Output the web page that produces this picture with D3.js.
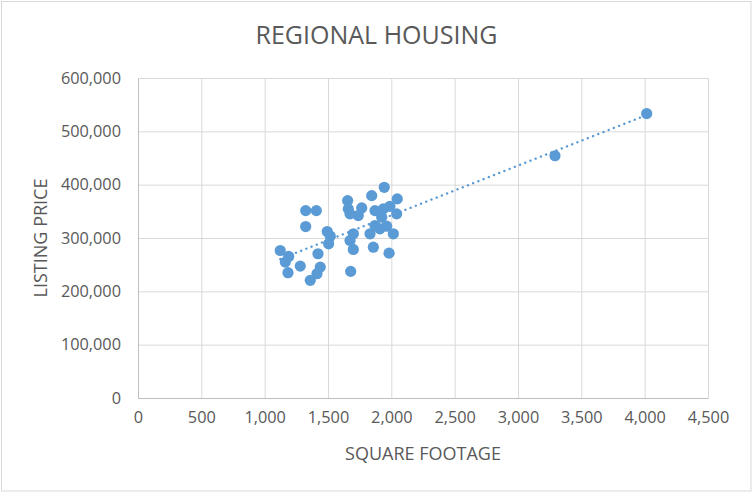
<!DOCTYPE html>
<html>
<head>
<meta charset="utf-8">
<script src="https://cdn.jsdelivr.net/npm/d3@7"></script>
<style>
  html, body { margin: 0; padding: 0; background: #fff; }
  svg { display: block; font-family: "Open Sans", "Liberation Sans", sans-serif; }
</style>
</head>
<body>
<svg id="chart" width="753" height="493"></svg>
<script>
// ---- data ----
const title = "REGIONAL HOUSING";
const xAxisTitle = "SQUARE FOOTAGE";
const yAxisTitle = "LISTING PRICE";
const squareFootage = [
  1123, 1190, 1163, 1184, 1281, 1421, 1439, 1413, 1360, 1324,
  1408, 1324, 1494, 1518, 1505, 1944, 1845, 1655, 1660, 1674,
  1766, 1739, 1871, 1937, 1989, 2047, 2042, 1924, 1871, 1910,
  1963, 2016, 1832, 1700, 1674, 1700, 1858, 1982, 1679, 3292,
  4016
];
const listingPrice = [
  276600, 265400, 254800, 235000, 247300, 270500, 245400, 233100, 220600, 351400,
  351400, 321500, 312100, 303400, 289100, 395000, 379400, 370100, 354600, 345200,
  356400, 342100, 351400, 354600, 359400, 373300, 345200, 338900, 323400, 317200,
  322100, 307900, 307900, 307900, 295300, 278500, 282800, 271600, 237400, 454200,
  533300
];
const xTicks = [0, 500, 1000, 1500, 2000, 2500, 3000, 3500, 4000, 4500];
const yTicks = [0, 100000, 200000, 300000, 400000, 500000, 600000];

// ---- layout ----
const svg = d3.select("#chart");
const W = 753, H = 493;
const plot = { left: 138, right: 708, top: 78, bottom: 398 };
const textColor = "#595959";
const gridColor = "#D9D9D9";
const axisColor = "#BFBFBF";
const markColor = "#5B9BD5";

svg.append("rect")
  .attr("x", 1.5).attr("y", 1.5)
  .attr("width", W - 3.5).attr("height", H - 3.5)
  .attr("fill", "#fff").attr("stroke", gridColor).attr("stroke-width", 1);

const x = d3.scaleLinear().domain([0, 4500]).range([plot.left, plot.right]);
const y = d3.scaleLinear().domain([0, 600000]).range([plot.bottom, plot.top]);
const fmt = d3.format(",");

// gridlines
const gy = svg.append("g")
  .attr("transform", `translate(${plot.left},0)`)
  .call(d3.axisLeft(y).tickValues(yTicks).tickSize(-(plot.right - plot.left)).tickFormat(""));
gy.select(".domain").remove();
gy.selectAll(".tick line").attr("stroke", gridColor).attr("stroke-width", 1);

const gx = svg.append("g")
  .attr("transform", `translate(0,${plot.bottom})`)
  .call(d3.axisBottom(x).tickValues(xTicks).tickSize(-(plot.bottom - plot.top)).tickFormat(""));
gx.select(".domain").remove();
gx.selectAll(".tick line").attr("stroke", gridColor).attr("stroke-width", 1);

// axis lines
const yAxis = svg.append("g")
  .attr("transform", `translate(${plot.left},0)`)
  .call(d3.axisLeft(y).tickValues(yTicks).tickSize(0).tickPadding(17).tickFormat(fmt));
yAxis.select(".domain").attr("stroke", axisColor);
yAxis.selectAll(".tick text").attr("fill", textColor).style("font-size", "16.3px")
  .style("font-family", "'Open Sans', sans-serif");

const xAxis = svg.append("g")
  .attr("transform", `translate(0,${plot.bottom})`)
  .call(d3.axisBottom(x).tickValues(xTicks).tickSize(0).tickPadding(13).tickFormat(fmt));
xAxis.select(".domain").attr("stroke", axisColor);
xAxis.selectAll(".tick text").attr("fill", textColor).style("font-size", "16.3px")
  .style("font-family", "'Open Sans', sans-serif");

// points
const pts = squareFootage.map((s, i) => ({ s, p: listingPrice[i] }));
svg.append("g").selectAll("circle").data(pts).join("circle")
  .attr("cx", d => x(d.s)).attr("cy", d => y(d.p)).attr("r", 5.6)
  .attr("fill", markColor);

// linear trendline (least squares)
const mx = d3.mean(pts, d => d.s), my = d3.mean(pts, d => d.p);
const slope = d3.sum(pts, d => (d.s - mx) * (d.p - my)) / d3.sum(pts, d => (d.s - mx) ** 2);
const intercept = my - slope * mx;
const [xmin, xmax] = d3.extent(squareFootage);
svg.append("line")
  .attr("x1", x(xmin)).attr("y1", y(intercept + slope * xmin))
  .attr("x2", x(xmax)).attr("y2", y(intercept + slope * xmax))
  .attr("stroke", markColor).attr("stroke-width", 2.4)
  .attr("stroke-linecap", "round").attr("stroke-dasharray", "0.1 5.5");

// titles
svg.append("text").attr("x", W / 2).attr("y", 44).attr("text-anchor", "middle")
  .attr("fill", textColor).style("font-size", "25px").text(title);
svg.append("text").attr("x", (plot.left + plot.right) / 2).attr("y", 460)
  .attr("text-anchor", "middle").attr("fill", textColor).style("font-size", "18px").text(xAxisTitle);
svg.append("text")
  .attr("transform", `translate(47,${(plot.top + plot.bottom) / 2}) rotate(-90)`)
  .attr("text-anchor", "middle").attr("fill", textColor).style("font-size", "18px").text(yAxisTitle);
</script>
</body>
</html>
